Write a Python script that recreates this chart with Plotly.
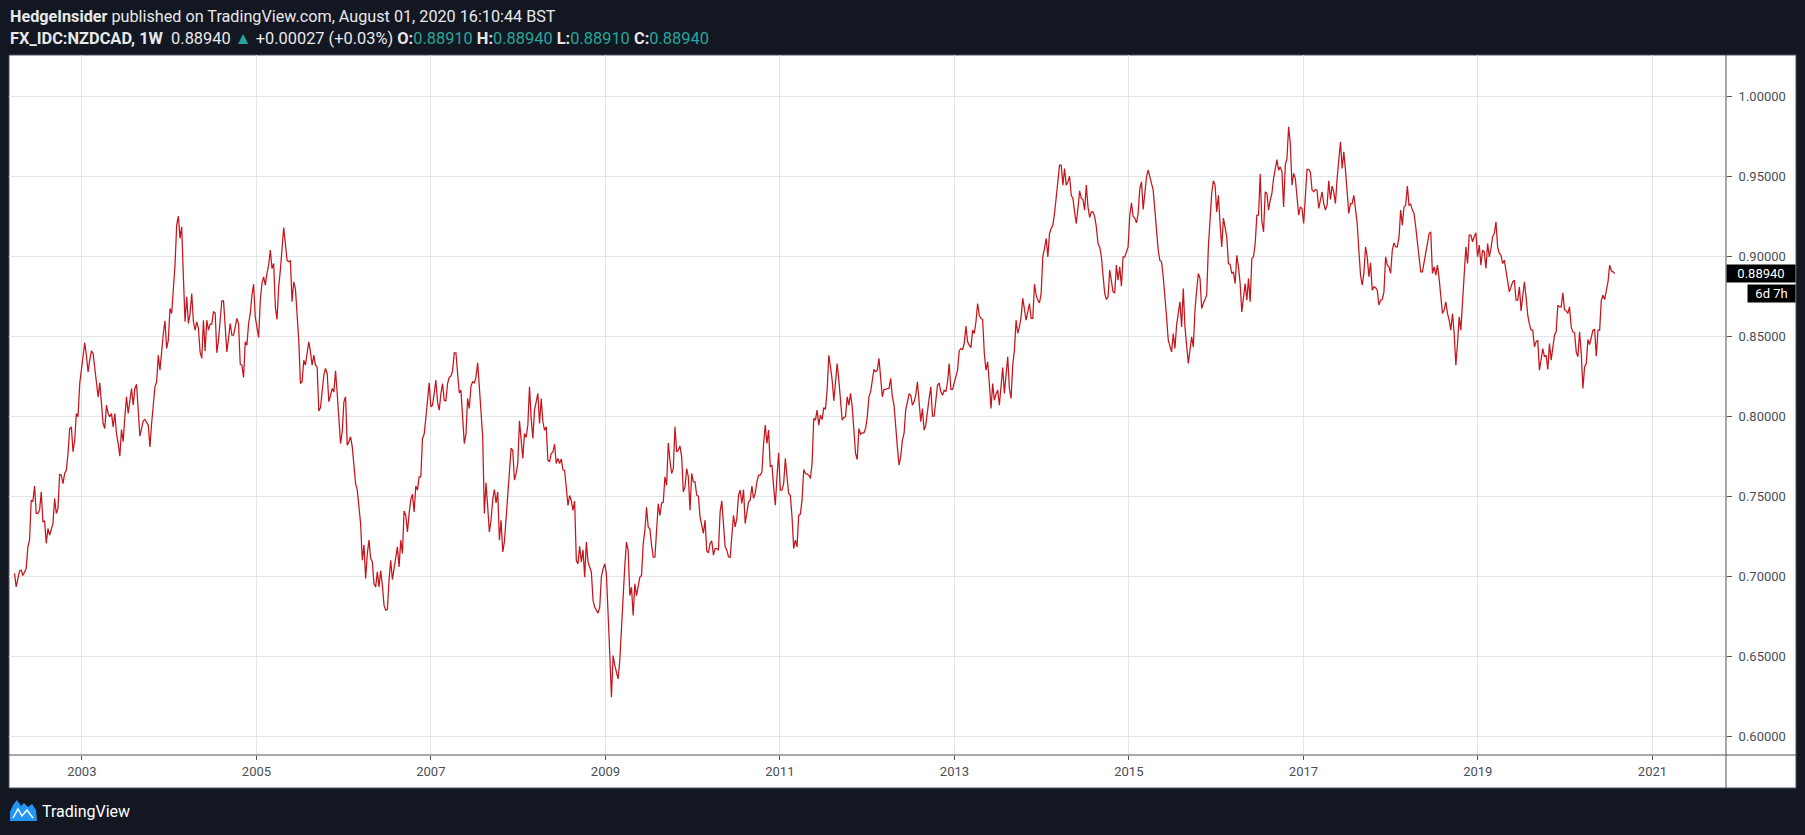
import pandas as pd
import plotly.graph_objects as go

# ---------------- data (weekly closes, FX_IDC:NZDCAD) ----------------
start_date = "2002-03-25"          # first weekly bar
# None = week not read from the picture (line is drawn through it)
close = [
    0.7020, 0.6935, None, 0.7035, 0.7040, 0.7006, None, 0.7050, 0.7185, 0.7227,
    0.7477, 0.7470, 0.7565, 0.7394, 0.7394, 0.7415, 0.7530, 0.7340, 0.7348, 0.7206,
    0.7300, 0.7258, None, 0.7330, 0.7488, 0.7394, 0.7425, 0.7638, 0.7633, 0.7580,
    0.7644, 0.7665, 0.7769, 0.7925, 0.7935, 0.7780, 0.7852, 0.8019, 0.7998, 0.8206,
    0.8300, 0.8373, 0.8460, 0.8383, 0.8279, 0.8352, 0.8410, 0.8394, 0.8290, 0.8185,
    0.8123, 0.8210, 0.8060, 0.7956, 0.7925, 0.8071, 0.8019, 0.7998, 0.8019, 0.7935,
    0.8019, 0.7894, 0.7831, 0.7752, 0.7919, 0.7842, 0.7998, 0.8123, 0.8019, 0.8085,
    0.8175, 0.8071, 0.8175, 0.8202, 0.8019, 0.7877, None, 0.7973, 0.7981, None,
    0.7946, 0.7810, 0.7956, 0.8102, 0.8185, 0.8217, 0.8383, 0.8290, 0.8435, 0.8519,
    0.8598, 0.8425, 0.8477, 0.8675, 0.8644, 0.8810, 0.8946, 0.9196, 0.9252, 0.9113,
    0.9185, 0.8873, 0.8592, 0.8748, 0.8581, 0.8644, 0.8769, 0.8592, 0.8540, 0.8592,
    0.8550, 0.8404, 0.8363, 0.8602, 0.8410, 0.8602, 0.8540, 0.8577, 0.8577, 0.8654,
    0.8648, 0.8398, 0.8477, 0.8602, 0.8723, 0.8723, 0.8560, 0.8404, 0.8488, 0.8581,
    0.8508, 0.8508, 0.8560, 0.8613, 0.8581, 0.8327, 0.8321, 0.8244, 0.8467, 0.8446,
    0.8581, 0.8644, 0.8758, 0.8827, 0.8623, 0.8560, 0.8494, 0.8727, 0.8831, 0.8873,
    0.8821, 0.8894, 0.8946, 0.9040, 0.8925, 0.8956, 0.8685, 0.8606, 0.8810, 0.8915,
    0.9060, 0.9181, 0.9081, 0.8977, 0.8967, 0.8973, 0.8717, 0.8842, 0.8800, 0.8644,
    0.8477, 0.8206, 0.8217, 0.8352, 0.8321, 0.8394, 0.8467, 0.8404, 0.8321, 0.8383,
    0.8321, 0.8310, 0.8035, 0.8056, 0.8165, 0.8258, 0.8300, 0.8269, 0.8092, 0.8144,
    0.8175, 0.8154, 0.8285, 0.8144, 0.7967, 0.7831, 0.7904, 0.8092, 0.8123, 0.7821,
    0.7842, 0.7873, 0.7810, 0.7665, 0.7581, 0.7540, 0.7415, 0.7330, 0.7102, 0.7196,
    0.6988, 0.7144, 0.7227, 0.7113, 0.7092, 0.6956, 0.6935, 0.7029, 0.6935, 0.7035,
    0.6946, 0.6821, 0.6790, 0.6794, 0.6977, 0.7102, 0.6981, 0.7060, 0.7123, 0.7185,
    0.7060, 0.7227, 0.7144, 0.7410, 0.7383, 0.7279, 0.7394, 0.7481, 0.7515, 0.7404,
    0.7565, 0.7540, 0.7623, 0.7623, 0.7863, 0.7890, 0.7988, 0.8123, 0.8210, 0.8060,
    0.8071, 0.8144, 0.8227, 0.8092, 0.8040, 0.8144, 0.8206, 0.8102, 0.8098, 0.8206,
    0.8244, 0.8252, 0.8285, 0.8398, 0.8398, 0.8269, 0.8148, 0.8165, 0.7977, 0.7831,
    0.7890, 0.8113, 0.8050, 0.8190, 0.8217, 0.8210, 0.8248, 0.8335, 0.8185, 0.8040,
    0.7873, 0.7394, 0.7585, 0.7435, 0.7279, 0.7352, 0.7477, 0.7544, 0.7460, 0.7529,
    0.7227, 0.7352, 0.7154, 0.7217, 0.7373, 0.7498, 0.7665, 0.7802, 0.7787, 0.7602,
    0.7644, 0.7706, 0.7973, 0.7831, 0.7738, 0.7894, 0.7869, 0.7946, 0.8185, 0.7988,
    0.7863, 0.8040, 0.8102, 0.8144, 0.7956, 0.8113, 0.7967, 0.7915, 0.7935, 0.7727,
    0.7717, 0.7769, 0.7779, 0.7827, 0.7706, 0.7738, 0.7706,
    0.7735, 0.7667, 0.7663, 0.7558, 0.7444, 0.7506, 0.7475, 0.7413, 0.7471, 0.7100,
    0.7079, 0.7188, 0.7090, 0.7167, 0.6996, 0.7215, 0.7090, None, 0.7027, 0.6850,
    0.6808, 0.6792, 0.6771, 0.6808, 0.7000, 0.7048, 0.7079, 0.7017, 0.6704, 0.6517,
    0.6246, 0.6506, 0.6444, 0.6402, 0.6360, 0.6475, 0.6704, 0.6933, 0.7069, 0.7215,
    0.7163, 0.6881, 0.6933, 0.6756, 0.6954, 0.6881, 0.6954, 0.6996, 0.7006, 0.7204,
    0.7288, 0.7433, 0.7308, 0.7298, 0.7194, 0.7121, 0.7121, 0.7267, 0.7454, 0.7381,
    0.7458, 0.7465,
    0.7623, 0.7571, 0.7835, 0.7727, 0.7644, 0.7675, 0.7935, 0.7779, 0.7790, 0.7815,
    0.7748, 0.7529, 0.7560, 0.7675, 0.7623, 0.7415, 0.7644, 0.7592, 0.7592, 0.7508,
    0.7502, 0.7373, 0.7321, 0.7269, 0.7352, 0.7160, 0.7148, 0.7206, 0.7223, 0.7133,
    0.7175, 0.7175, 0.7165, 0.7404, 0.7473, 0.7331, 0.7185, 0.7165, 0.7123, 0.7119,
    0.7248, 0.7383, 0.7310, 0.7363, 0.7508, 0.7540, 0.7456, 0.7544, 0.7331, 0.7394,
    0.7467, 0.7477, 0.7565, 0.7488, 0.7519, 0.7592, 0.7633, 0.7633, 0.7654, 0.7831,
    0.7946, 0.7831, 0.7915, 0.7685, 0.7696, 0.7560, 0.7446, 0.7623, 0.7773, 0.7540,
    0.7540, 0.7581, 0.7738, 0.7623, 0.7519, 0.7508, 0.7373, 0.7175, 0.7227, 0.7185,
    0.7383, 0.7390, 0.7477, 0.7669, 0.7644, 0.7640, 0.7633, 0.7613, 0.7706, 0.7988,
    0.7977, 0.8040, 0.7946, 0.8008, 0.7981, 0.8056, 0.8044, 0.8165, 0.8383, 0.8310,
    0.8227, 0.8098, 0.8227, 0.8331, 0.8227, 0.8092, 0.7977, 0.7994, 0.7998, 0.8123,
    0.8071, 0.8144, 0.8060, 0.7915, 0.7769, 0.7731, 0.7925, 0.7890, 0.7898, 0.7898,
    0.7925, 0.7998, 0.8123, 0.8154, 0.8238, 0.8294, 0.8279, 0.8290, 0.8363, 0.8227,
    0.8123, 0.8169, 0.8169, 0.8175, 0.8175, 0.8238, 0.8123, 0.8071, 0.7915, 0.7810,
    0.7696, 0.7748, 0.7852, 0.7894, 0.8040, 0.8102, 0.8140, 0.8133, 0.8071, 0.8092,
    0.8133, 0.8217, 0.8085, 0.7967, 0.8050, 0.7915, 0.7946, 0.8050, 0.8113, 0.8185,
    0.8002, 0.8002, 0.8113, 0.8196, 0.8210, 0.8154, 0.8133, 0.8165, 0.8154, 0.8217,
    0.8331, 0.8169, 0.8169, 0.8206, 0.8248, 0.8290, 0.8410, 0.8425, 0.8419, 0.8456,
    0.8565,
    0.8467, 0.8446, 0.8431, 0.8540, 0.8519, 0.8592, 0.8706, 0.8633, 0.8613, 0.8606,
    0.8394, 0.8290, 0.8342, 0.8206, 0.8050, 0.8206, 0.8102, 0.8140, 0.8165, 0.8071,
    0.8206, 0.8306, 0.8144, 0.8250, 0.8373, 0.8175, 0.8113, 0.8321, 0.8415, 0.8602,
    0.8519, 0.8560, 0.8623, 0.8738, 0.8654, 0.8602, 0.8654, 0.8706, 0.8613, 0.8613,
    0.8827, 0.8758, 0.8727, 0.8710, 0.8769, 0.9000, 0.9050, 0.9113, 0.8998, 0.9144,
    0.9175, 0.9196, 0.9269, 0.9383, 0.9477, 0.9571, 0.9571, 0.9446, 0.9550, 0.9446,
    0.9467, 0.9502, 0.9383, 0.9363, 0.9279, 0.9206, 0.9300, 0.9410, 0.9363, 0.9356,
    0.9290, 0.9446, 0.9310, 0.9244, 0.9279, 0.9279, 0.9248, 0.9185, 0.9081, 0.9060,
    0.9000, 0.8880, 0.8769, 0.8731, 0.8748, 0.8915, 0.8831, 0.8779, 0.8773, 0.8946,
    0.8852, 0.8935, 0.8815, 0.8998, 0.8998, 0.9029, 0.9060, 0.9258, 0.9335, 0.9250,
    0.9240, 0.9210, 0.9269, 0.9425, 0.9467, 0.9294, 0.9394, 0.9498, 0.9540, 0.9498,
    0.9456, 0.9415, 0.9290, 0.9165, 0.9040, 0.8975, 0.8967, 0.8873, 0.8769, 0.8623,
    0.8477, 0.8435, 0.8404, 0.8519, 0.8425, 0.8571, 0.8644, 0.8717, 0.8560, 0.8800,
    0.8560, 0.8415, 0.8331, 0.8415, 0.8498, 0.8435, 0.8665, 0.8790, 0.8894, 0.8863,
    0.8675, 0.8706, 0.8727, 0.8758, 0.9060, 0.9248, 0.9394, 0.9473, 0.9446, 0.9279,
    0.9383, 0.9206, 0.9060, 0.9240, 0.9165, 0.9123, 0.8956, 0.8950, 0.8894, 0.8904,
    0.8831, 0.9008, 0.8935, 0.8831, 0.8654, 0.8758, 0.8831, 0.8727, 0.8863, 0.8717,
    0.8988, 0.8998, 0.9081, 0.9258, 0.9258, 0.9515, 0.9217, 0.9154, 0.9404, 0.9394,
    0.9290, 0.9352, 0.9394, 0.9488, 0.9550, 0.9606, 0.9540, 0.9560, 0.9529, 0.9310,
    0.9571, 0.9613, 0.9810, 0.9706,
    0.9446, 0.9519, 0.9488, 0.9394, 0.9258, 0.9310, 0.9300, 0.9206, 0.9373, 0.9544,
    0.9544, 0.9529, 0.9415, 0.9404, 0.9419, 0.9415, 0.9300, 0.9363, 0.9404, 0.9331,
    0.9290, 0.9321, 0.9473, 0.9356, 0.9440, 0.9404, 0.9331, 0.9488, 0.9633, 0.9717,
    0.9550, 0.9654, 0.9540, 0.9404, 0.9269, 0.9331, 0.9331, 0.9383, 0.9279, 0.9206,
    0.9040, 0.8883, 0.8821, 0.8894, 0.9060, 0.8998, 0.8873, 0.8960, 0.8790, 0.8810,
    0.8806, 0.8790, 0.8696, 0.8727, 0.8731, 0.8779, 0.8998, 0.8946, 0.8935, 0.8894,
    0.9040, 0.9085, 0.9060, 0.9060, 0.9119, 0.9290, 0.9196, 0.9310, 0.9321, 0.9440,
    0.9321, 0.9327, 0.9290, 0.9269, 0.9185, 0.9081, 0.8988, 0.8904, 0.8904, 0.8956,
    0.9029, 0.9081, 0.9144, 0.9154, 0.8894, 0.8935, 0.8883, 0.8946, 0.8863, 0.8769,
    0.8644, 0.8665, 0.8717, 0.8644, 0.8602, 0.8540, 0.8644, 0.8519, 0.8321, 0.8456,
    0.8623, 0.8540, 0.8727, 0.8915, 0.9060, 0.8956, 0.9133, 0.9133, 0.9092, 0.9123,
    0.9148, 0.8998, 0.9071, 0.8946, 0.9040, 0.9029, 0.8925, 0.9081, 0.8998, 0.9050,
    0.9123, 0.9144, 0.9217, 0.9060, 0.9019, 0.9008, 0.8956, 0.8977, 0.8915, 0.8852,
    0.8779, 0.8810, 0.8842, 0.8852, 0.8727, 0.8727, 0.8810, 0.8660, 0.8748, 0.8842,
    0.8748, 0.8633, 0.8577, 0.8540, 0.8540, 0.8435, 0.8467, 0.8477, 0.8290, 0.8352,
    0.8425, 0.8373, 0.8383, 0.8294, 0.8456, 0.8352, 0.8446, 0.8508, 0.8529, 0.8696,
    0.8685, 0.8685, 0.8773, 0.8669, 0.8660, 0.8644, 0.8685, 0.8560, 0.8529, 0.8523,
    0.8404, 0.8373, 0.8529, 0.8394, 0.8175, 0.8310, 0.8331, 0.8481, 0.8450, 0.8508,
    0.8540, 0.8544, 0.8377, 0.8540, 0.8540, 0.8727, 0.8758, 0.8731, 0.8790, 0.8842,
    0.8946, 0.8910, 0.8904, 0.8894,
]

last_close = 0.88940
countdown = "6d 7h"
x_range = ["2002-03-02", "2021-11-05"]
y_range = [0.58844, 1.02594]
year_tick0 = "2003-01-01"
price_tick0 = 0.60
price_step = 0.05

TEAL = "#26a69a"
header_line1 = ("<b>HedgeInsider</b> published on TradingView.com, "
                "August 01, 2020 16:10:44 BST")
header_line2 = (
    "<b>FX_IDC:NZDCAD, 1W</b>  0.88940 "
    f"<span style='color:{TEAL};font-size:17px'>▲</span> +0.00027 (+0.03%) "
    f"<b>O:</b><span style='color:{TEAL}'>0.88910</span> "
    f"<b>H:</b><span style='color:{TEAL}'>0.88940</span> "
    f"<b>L:</b><span style='color:{TEAL}'>0.88910</span> "
    f"<b>C:</b><span style='color:{TEAL}'>0.88940</span>"
)

dates = pd.Timestamp(start_date) + pd.to_timedelta([7 * i for i in range(len(close))], unit="D")

# ---------------- layout geometry (pixels) ----------------
W, H = 1805, 835
L, R, T, B = 9, 1726, 55, 755          # plot pane
PW, PH = R - L, B - T
BG = "#131722"
AX = "#50535e"
GRID = "#e4e5e8"
LABEL = "#4a4e59"
FONT = "Roboto"


def px(xp):
    return (xp - L) / PW


def py(yp):
    return (B - yp) / PH


fig = go.Figure()
fig.add_trace(go.Scatter(
    x=dates, y=close, mode="lines", connectgaps=True,
    line=dict(color="#c4161c", width=1.25), hoverinfo="skip", showlegend=False,
))

shapes = [
    # white chart card (pane + time axis + price axis)
    dict(type="rect", xref="paper", yref="paper", x0=px(L), x1=px(1796), y0=py(788), y1=py(T),
         fillcolor="white", line=dict(color=AX, width=1), layer="below"),
    # pane bottom border / time-axis top line
    dict(type="line", xref="paper", yref="paper", x0=px(L), x1=px(1796), y0=0, y1=0,
         line=dict(color=AX, width=1), layer="above"),
    # price-axis left line
    dict(type="line", xref="paper", yref="paper", x0=1, x1=1, y0=py(788), y1=py(T),
         line=dict(color=AX, width=1), layer="above"),
]

# TradingView logo (decorative)
logo_pts = [(10, 821), (10, 812), (13, 805), (17, 800), (21, 806), (24, 803),
            (28, 807), (32, 804), (36, 810), (37, 821)]
path = "M " + " L ".join(f"{px(a):.5f},{py(b):.5f}" for a, b in logo_pts) + " Z"
shapes.append(dict(type="path", xref="paper", yref="paper", path=path,
                   fillcolor="#2196f3", line=dict(width=0)))
zig = [(13, 818), (18, 809), (22, 816), (27, 810), (33, 818)]
path2 = "M " + " L ".join(f"{px(a):.5f},{py(b):.5f}" for a, b in zig)
shapes.append(dict(type="path", xref="paper", yref="paper", path=path2,
                   line=dict(color="white", width=1.5)))

annotations = [
    dict(text=header_line1, xref="paper", yref="paper", x=px(8), y=py(16),
         xanchor="left", yanchor="middle", showarrow=False,
         font=dict(family=FONT, size=16.2, color="#e8e8ea")),
    dict(text=header_line2, xref="paper", yref="paper", x=px(8), y=py(38),
         xanchor="left", yanchor="middle", showarrow=False,
         font=dict(family=FONT, size=16.4, color="#e8e8ea")),
    # last price tag
    dict(text=f"{last_close:.5f}", xref="paper", yref="y", x=1, y=last_close,
         xanchor="left", yanchor="middle", showarrow=False, bgcolor="#000000",
         width=64, height=13, borderpad=2, align="center",
         font=dict(family=FONT, size=13, color="white")),
    dict(text=countdown, xref="paper", yref="y", x=px(1747), y=last_close, yshift=-20,
         xanchor="left", yanchor="middle", showarrow=False, bgcolor="#000000",
         width=43, height=13, borderpad=2, align="center",
         font=dict(family=FONT, size=13, color="white")),
    dict(text="TradingView", xref="paper", yref="paper", x=px(40), y=py(811),
         xanchor="left", yanchor="middle", showarrow=False,
         font=dict(family=FONT, size=16, color="#ffffff")),
]

fig.update_layout(
    width=W, height=H,
    margin=dict(l=L, r=W - R, t=T, b=H - B, pad=0),
    paper_bgcolor=BG, plot_bgcolor="white",
    shapes=shapes, annotations=annotations,
    showlegend=False,
    xaxis=dict(
        type="date", range=x_range, tick0=year_tick0, dtick="M24", tickformat="%Y",
        showgrid=True, gridcolor=GRID, gridwidth=1, zeroline=False, showline=False,
        ticks="outside", ticklen=4, tickcolor=AX, automargin=False,
        tickfont=dict(family=FONT, size=13, color=LABEL), fixedrange=True,
    ),
    yaxis=dict(
        side="right", range=y_range, tick0=price_tick0, dtick=price_step, tickformat=".5f",
        showgrid=True, gridcolor=GRID, gridwidth=1, zeroline=False, showline=False,
        ticks="outside", ticklen=5, tickcolor=AX, ticklabelstandoff=4, automargin=False,
        tickfont=dict(family=FONT, size=13, color=LABEL), fixedrange=True,
    ),
)

fig.write_html("out.html", config={"displayModeBar": False})
